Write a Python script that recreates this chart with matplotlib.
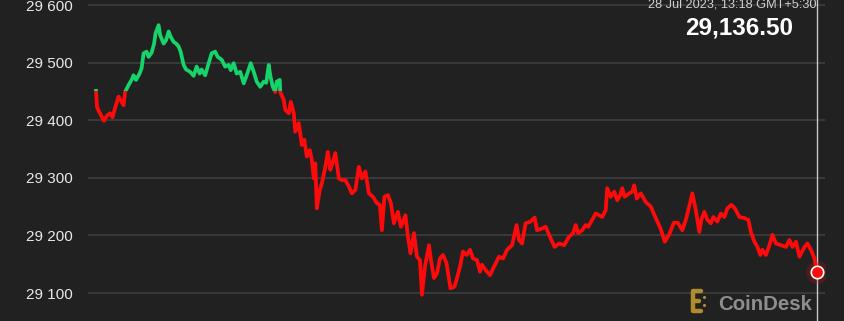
import matplotlib
matplotlib.use("Agg")
import matplotlib.pyplot as plt
from matplotlib.patches import Rectangle
import numpy as np

# minutes since start of the 24h window, and BTC price (USD)
minutes = [0, 2, 6, 16, 21, 28, 33, 38, 45, 51, 55, 58, 65, 71, 75, 80, 87, 91, 95, 101,
           105, 111, 116, 119, 125, 128, 135, 140, 145, 149, 155, 160, 165, 169, 175, 180, 188, 195, 201, 207,
           211, 218, 225, 231, 238, 243, 251, 258, 265, 269, 275, 281, 288, 295, 301, 309, 315, 321, 328, 335,
           340, 345, 348, 353, 358, 361, 367, 368, 375, 378, 385, 389, 395, 398, 405, 411, 416, 421, 427, 431,
           435, 438, 441, 447, 451, 458, 463, 468, 473, 478, 485, 491, 498, 505, 511, 518, 525, 531, 538, 545,
           553, 561, 567, 571, 576, 583, 589, 595, 603, 609, 618, 623, 628, 635, 641, 647, 651, 657, 665, 669,
           675, 681, 687, 693, 700, 708, 716, 721, 727, 733, 740, 747, 753, 761, 767, 771, 778, 787, 795, 805,
           813, 821, 831, 840, 845, 851, 858, 868, 876, 881, 891, 898, 908, 916, 925, 935, 945, 953, 958, 963,
           971, 978, 983, 991, 998, 1005, 1011, 1018, 1021, 1028, 1035, 1041, 1047, 1051, 1056, 1065, 1071, 1075, 1080, 1088,
           1098, 1108, 1118, 1128, 1136, 1145, 1154, 1162, 1171, 1178, 1187, 1191, 1198, 1205, 1209, 1215, 1221, 1228, 1233, 1241,
           1248, 1255, 1261, 1269, 1276, 1285, 1295, 1303, 1308, 1315, 1321, 1327, 1331, 1338, 1345, 1351, 1358, 1368, 1378, 1385,
           1391, 1398, 1405, 1415, 1421, 1428, 1435, 1440]
prices = [29451, 29423, 29415, 29399, 29407, 29412, 29405, 29421, 29441, 29432, 29426, 29449, 29461, 29470, 29478, 29470, 29481, 29490, 29516, 29519,
          29510, 29517, 29533, 29551, 29565, 29548, 29533, 29539, 29554, 29545, 29536, 29533, 29528, 29519, 29496, 29488, 29484, 29477, 29493, 29481,
          29488, 29478, 29499, 29516, 29519, 29510, 29505, 29493, 29496, 29487, 29499, 29481, 29484, 29464, 29478, 29499, 29484, 29467, 29458, 29467,
          29465, 29496, 29478, 29458, 29449, 29467, 29470, 29449, 29435, 29418, 29412, 29432, 29412, 29380, 29395, 29357, 29366, 29337, 29348, 29331,
          29299, 29325, 29247, 29279, 29290, 29319, 29345, 29314, 29328, 29343, 29299, 29296, 29296, 29285, 29273, 29279, 29319, 29299, 29311, 29273,
          29267, 29256, 29253, 29209, 29267, 29270, 29256, 29221, 29241, 29215, 29235, 29198, 29169, 29204, 29163, 29157, 29097, 29146, 29183, 29157,
          29126, 29134, 29160, 29166, 29152, 29108, 29111, 29126, 29146, 29172, 29166, 29175, 29160, 29157, 29137, 29149, 29140, 29131, 29146, 29163,
          29160, 29175, 29183, 29218, 29192, 29186, 29221, 29224, 29231, 29209, 29212, 29215, 29195, 29180, 29186, 29183, 29198, 29204, 29218, 29204,
          29209, 29218, 29215, 29227, 29238, 29235, 29232, 29244, 29282, 29267, 29276, 29261, 29270, 29282, 29267, 29273, 29276, 29287, 29264, 29273,
          29258, 29250, 29230, 29211, 29189, 29202, 29222, 29222, 29209, 29227, 29258, 29273, 29244, 29206, 29227, 29241, 29227, 29221, 29232, 29224,
          29238, 29232, 29247, 29253, 29247, 29232, 29230, 29227, 29206, 29189, 29180, 29166, 29175, 29166, 29183, 29201, 29186, 29183, 29180, 29192,
          29180, 29189, 29163, 29180, 29186, 29175, 29160, 29136.5]

yticks = [29100, 29200, 29300, 29400, 29500, 29600]
ytick_labels = ["29 100", "29 200", "29 300", "29 400", "29 500", "29 600"]
stamp = "28 Jul 2023, 13:18 GMT+5:30"
last_label = "29,136.50"

bg = "#212121"
up_col = "#16d36a"
down_col = "#ff0a0a"

plt.rcParams['font.family'] = ['Liberation Sans', 'DejaVu Sans']

fig = plt.figure(figsize=(8.45, 3.21), dpi=100, facecolor=bg)
ax = fig.add_axes([88 / 845, 0, 737 / 845, 1])
ax.set_facecolor(bg)
ax.set_xlim(-16, 1456)
ax.set_ylim(29051.4, 29608.7)

for s in ax.spines.values():
    s.set_visible(False)
ax.set_xticks([])
ax.set_yticks(yticks)
ax.set_yticklabels(ytick_labels, color="#e8e8e8", fontsize=11)
ax.tick_params(axis="y", length=0, pad=11)
ax.yaxis.grid(True, color="#3a3a3a", linewidth=1.4)
ax.set_axisbelow(True)

base = prices[0]
# same line drawn twice, clipped above / below the opening price
up_line, = ax.plot(minutes, prices, color=up_col, lw=2.7, solid_joinstyle="round", zorder=3)
dn_line, = ax.plot(minutes, prices, color=down_col, lw=2.7, solid_joinstyle="round", zorder=3)
above = Rectangle((-100, base), 2000, 1000, transform=ax.transData, visible=False)
below = Rectangle((-100, base - 1000), 2000, 1000, transform=ax.transData, visible=False)
ax.add_patch(above)
ax.add_patch(below)
up_line.set_clip_path(above)
dn_line.set_clip_path(below)

# cursor line and last point
ax.axvline(minutes[-1], color="#c9c9c9", lw=1, zorder=2)
ax.scatter([minutes[-1]], [prices[-1]], s=260, color=down_col, alpha=0.22, lw=0, zorder=4)
ax.scatter([minutes[-1]], [prices[-1]], s=80, color=down_col, edgecolor="white", lw=1.2, zorder=5)

fig.text(817 / 845, 1 - 7.5 / 321, stamp, ha="right", va="baseline", color="#d0d0d0", fontsize=9.2)
fig.text(793 / 845, 1 - 34.5 / 321, last_label, ha="right", va="baseline", color="white",
         fontsize=17.5, fontweight="bold")

# CoinDesk watermark
ov = fig.add_axes([0, 0, 1, 1], facecolor="none")
ov.set_xlim(0, 845)
ov.set_ylim(321, 0)
ov.axis("off")
gold = "#b08c2e"
ov.plot([701, 693, 693, 701], [291, 291, 311, 311], color=gold, lw=3.2, solid_capstyle="round",
        solid_joinstyle="round")
ov.plot([693, 699], [301, 301], color=gold, lw=3.2, solid_capstyle="round")
ov.scatter([704, 704], [297, 305], s=5, color=gold, lw=0)
fig.text(718 / 845, 1 - 310 / 321, "CoinDesk", ha="left", va="baseline", color="#8e8e8e",
         fontsize=14.7, fontweight="bold")

fig.savefig("out.png", dpi=100, facecolor=bg)
